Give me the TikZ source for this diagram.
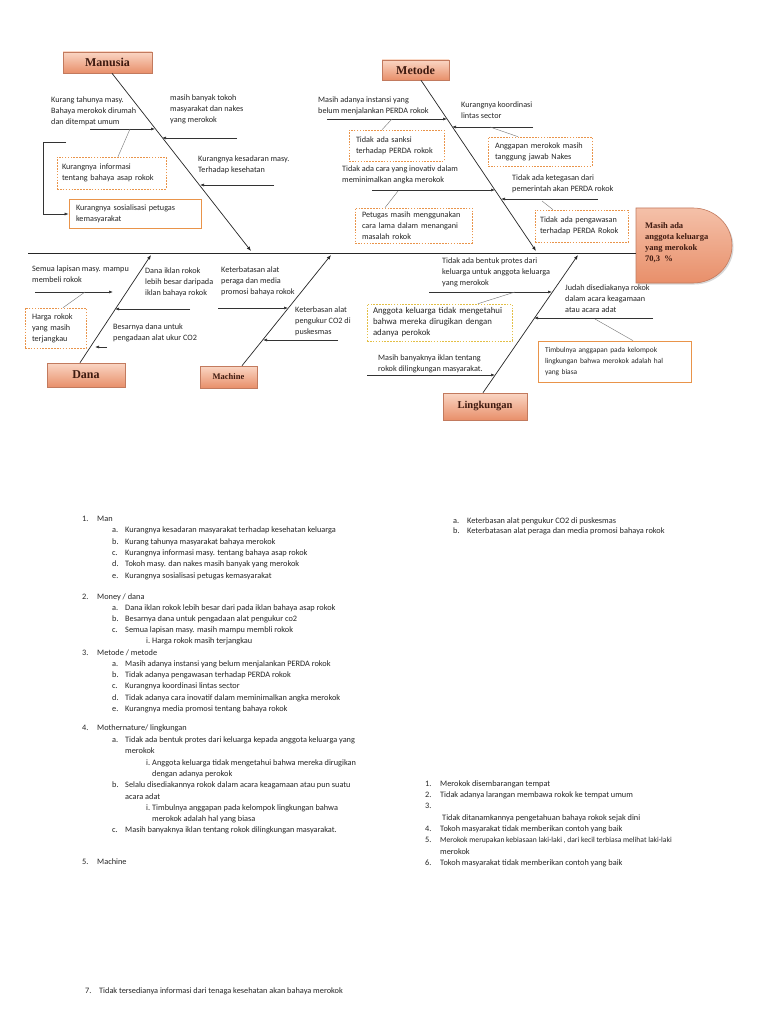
\documentclass[tikz,border=0pt]{standalone}
\usepackage{fontspec}
\setmainfont{Carlito}
\newfontfamily\tnr{Liberation Serif}
\usetikzlibrary{arrows.meta,shadows}
\definecolor{txtc}{HTML}{262626}
\definecolor{boxtop}{HTML}{FAD6C4}
\definecolor{boxbot}{HTML}{E88F6A}
\definecolor{boxdraw}{HTML}{C27A5E}
\definecolor{orng}{HTML}{E9944A}
\definecolor{goldc}{HTML}{E3BF45}
\definecolor{headtxt}{HTML}{3E1A10}
\begin{document}
\begin{tikzpicture}[x=1pt,y=-1pt,
 dtxt/.style={anchor=north west,inner sep=0pt,align=left,text=txtc,font=\fontsize{8.2}{11}\selectfont},
 ltxt/.style={anchor=base west,inner sep=0pt,text=txtc,font=\fontsize{8.3}{11}\selectfont},
 cat/.style={draw=boxdraw,line width=0.6pt,top color=boxtop,bottom color=boxbot,drop shadow={opacity=0.3,shadow xshift=1.3pt,shadow yshift=-1.3pt},text=headtxt,inner sep=0pt},
 dbox/.style={draw=orng,line width=0.6pt,dash pattern=on 1.6pt off 1.3pt,inner sep=0pt,align=left,text=txtc,font=\fontsize{8.2}{11}\selectfont},
 sbox/.style={draw=orng,line width=0.7pt,inner sep=0pt,align=left,text=txtc,font=\fontsize{8.2}{11}\selectfont},
 bone/.style={line width=0.7pt,black!85,-{Latex[length=4.5pt,width=3.5pt]}},
 sub/.style={line width=0.6pt,black!80,-{Latex[length=4pt,width=3pt]}},
 conn/.style={line width=0.4pt,black!55},
]
\useasboundingbox[fill=white] (0,0) rectangle (768,1024);

% ---------- head ----------
\path[draw=boxdraw,line width=0.6pt,top color=boxtop!70!boxbot,bottom color=boxbot,drop shadow={opacity=0.3,shadow xshift=1.5pt,shadow yshift=-1.5pt}]
 (636,208) -- (693,208) arc[start angle=-90,end angle=90,x radius=39,y radius=37.5] -- (636,283) -- cycle;
\coordinate (head) at (636,253);
\node[anchor=north west,inner sep=0pt,align=left,text=headtxt,font=\tnr\bfseries\fontsize{8.5}{11.3}\selectfont] (headtext) at (645,222) {Masih ada\\anggota keluarga\\yang merokok\\70,3~~\%};

% ---------- spine ----------
\coordinate (sp1) at (28,253);
\draw[line width=0.8pt,black!85] (sp1) -- (head);

% ---------- category boxes ----------
\node[cat,minimum width=89,minimum height=21,font=\tnr\bfseries\fontsize{12}{14}\selectfont] (man) at (107.5,62.5) {Manusia};
\node[cat,minimum width=67,minimum height=20,font=\tnr\bfseries\fontsize{12}{14}\selectfont] (met) at (415.5,70) {Metode};
\node[cat,minimum width=78,minimum height=24,font=\tnr\bfseries\fontsize{12}{14}\selectfont] (dan) at (86,375) {Dana};
\node[cat,minimum width=57,minimum height=22,font=\tnr\bfseries\fontsize{8.5}{10}\selectfont] (mac) at (228.5,377) {Machine};
\node[cat,minimum width=84,minimum height=27,font=\tnr\bfseries\fontsize{10.5}{12}\selectfont] (lin) at (485,406.5) {Lingkungan};

% ---------- main bones ----------
\coordinate (manE) at (251,251);
\coordinate (metE) at (536,251);
\coordinate (danE) at (151,255);
\coordinate (macE) at (331,255);
\coordinate (linE) at (578,255);
\draw[bone] ([xshift=4.5pt]man.south) -- (manE);
\draw[bone] ([xshift=5.5pt]met.south) -- (metE);
\draw[bone] ([xshift=-6pt]dan.north) -- (danE);
\draw[bone] ([xshift=13.5pt]mac.north) -- (macE);
\draw[bone] ([xshift=-2pt]lin.north) -- (linE);

% ---------- Manusia ----------
\node[dtxt] (t1) at (51,97) {Kurang tahunya masy.\\Bahaya merokok dirumah\\dan ditempat umum};
\node[dtxt] (t2) at (170,95) {masih banyak tokoh\\masyarakat dan nakes\\yang merokok};
\node[dtxt] (t3) at (198,155.5) {Kurangnya kesadaran masy.\\Terhadap kesehatan};
\coordinate (a1s) at (90,129);  \coordinate (a1e) at (155,129);
\coordinate (a2s) at (237,138); \coordinate (a2e) at (162,138);
\coordinate (a3s) at (274,185); \coordinate (a3e) at (200,185);
\draw[sub] (a1s) -- (a1e);
\draw[sub] (a2s) -- (a2e);
\draw[sub] (a3s) -- (a3e);
\node[dbox,minimum width=109,minimum height=32,text width=99] (b1) at (111.5,173) {Kurangnya informasi\\tentang bahaya asap rokok};
\node[sbox,minimum width=132,minimum height=29,text width=118] (b2) at (135,213.5) {Kurangnya sosialisasi petugas\\kemasyarakat};
\coordinate (c1) at (130,129);
\draw[conn] ([xshift=6.5pt]b1.north) -- (c1);
\coordinate (br1) at (66,142);
\draw[line width=0.6pt,black!80,-{Latex[length=4pt,width=3pt]}] (br1) -| (43,214) -- (b2.west |- 0,214);

% ---------- Metode ----------
\node[dtxt] (t4) at (318,96.5) {Masih adanya instansi yang\\belum menjalankan PERDA rokok};
\node[dtxt] (t5) at (461,102) {Kurangnya koordinasi\\lintas sector};
\node[dtxt] (t6) at (342,165.5) {Tidak ada cara yang inovativ dalam\\meminimalkan angka merokok};
\node[dtxt] (t7) at (512,174.5) {Tidak ada ketegasan dari\\pemerintah akan PERDA rokok};
\coordinate (a4s) at (327,119); \coordinate (a4e) at (447,119);
\coordinate (a5s) at (533,127); \coordinate (a5e) at (452,127);
\coordinate (a6s) at (372,190); \coordinate (a6e) at (495,190);
\coordinate (a7s) at (598,199); \coordinate (a7e) at (501,199);
\draw[sub] (a4s) -- (a4e);
\draw[sub] (a5s) -- (a5e);
\draw[sub] (a6s) -- (a6e);
\draw[sub] (a7s) -- (a7e);
\node[dbox,minimum width=95,minimum height=31,text width=81] (b3) at (396.5,145.5) {Tidak ada sanksi\\terhadap PERDA rokok};
\node[dbox,minimum width=104,minimum height=29,text width=90] (b4) at (540,151.5) {Anggapan merokok masih\\tanggung jawab Nakes};
\node[dbox,minimum width=117,minimum height=35,text width=103] (b5) at (413.5,225.5) {Petugas masih menggunakan\\cara lama dalam menangani\\masalah rokok};
\node[dbox,minimum width=93,minimum height=32,text width=83] (b6) at (581.5,226) {Tidak ada pengawasan\\terhadap PERDA Rokok};
\coordinate (c3) at (392,119);
\coordinate (c4) at (490,127);
\coordinate (c5) at (398,191);
\coordinate (c6) at (542,201);
\draw[conn] ([xshift=-14.5pt]b3.north) -- (c3);
\draw[conn] ([xshift=-22pt]b4.north) -- (c4);
\draw[conn] ([xshift=-28.5pt]b5.north) -- (c5);
\draw[conn] ([xshift=-28.5pt]b6.north) -- (c6);

% ---------- Dana ----------
\node[dtxt] (t8) at (32,265.5) {Semua lapisan masy. mampu\\membeli rokok};
\node[dtxt] (t9) at (145,267.5) {Dana iklan rokok\\lebih besar daripada\\iklan bahaya rokok};
\node[dtxt] (t10) at (113,323.5) {Besarnya dana untuk\\pengadaan alat ukur CO2};
\coordinate (a8s) at (35,292);  \coordinate (a8e) at (113,292);
\coordinate (a9s) at (190,309); \coordinate (a9e) at (115,309);
\coordinate (a10s) at (107,347); \coordinate (a10e) at (95,347);
\draw[sub] (a8s) -- (a8e);
\draw[sub] (a9s) -- (a9e);
\draw[sub] (a10s) -- (a10e);
\node[dbox,minimum width=61,minimum height=40,text width=47] (b7) at (55.5,328) {Harga rokok\\yang masih\\terjangkau};
\coordinate (c7) at (85,292);
\draw[conn] ([xshift=7.5pt]b7.north) -- (c7);

% ---------- Machine ----------
\node[dtxt] (t11) at (221,266.5) {Keterbatasan alat\\peraga dan media\\promosi bahaya rokok};
\node[dtxt] (t12) at (295,306.5) {Keterbasan alat\\pengukur CO2 di\\puskesmas};
\coordinate (a11s) at (218,308); \coordinate (a11e) at (288,308);
\coordinate (a12s) at (338,340); \coordinate (a12e) at (263,340);
\draw[sub] (a11s) -- (a11e);
\draw[sub] (a12s) -- (a12e);

% ---------- Lingkungan ----------
\node[dtxt] (t13) at (442,257.5) {Tidak ada bentuk protes dari\\keluarga untuk anggota keluarga\\yang merokok};
\node[dtxt] (t14) at (378,354.5) {Masih banyaknya iklan tentang\\rokok dilingkungan masyarakat.};
\node[dtxt] (t15) at (565,284.5) {Judah disediakanya rokok\\dalam acara keagamaan\\atau acara adat};
\coordinate (a13s) at (429,292); \coordinate (a13e) at (552,292);
\coordinate (a14s) at (367,375); \coordinate (a14e) at (495,375);
\coordinate (a15s) at (653,318); \coordinate (a15e) at (534,318);
\draw[sub] (a13s) -- (a13e);
\draw[sub] (a14s) -- (a14e);
\draw[sub] (a15s) -- (a15e);
\node[dbox,draw=goldc,minimum width=145,minimum height=37,text width=133,font=\fontsize{8.8}{11}\selectfont] (b8) at (439.5,322.5) {Anggota keluarga tidak mengetahui\\bahwa mereka dirugikan dengan\\adanya perokok};
\node[sbox,minimum width=153,minimum height=41,text width=139,font=\fontsize{7.4}{11}\selectfont] (b9) at (614.5,361.5) {Timbulnya anggapan pada kelompok\\lingkungan bahwa merokok adalah hal\\yang biasa};
\coordinate (c8) at (515,292);
\coordinate (c9) at (595,319);
\draw[conn] ([xshift=38.5pt]b8.north) -- (c8);
\draw[conn] ([xshift=18.5pt]b9.north) -- (c9);

% ---------- list, left column ----------
\node[ltxt] (n1) at (82,521) {1.};   \node[ltxt] (n1t) at (97,521) {Man};
\node[ltxt] (n1a) at (112,532) {a.}; \node[ltxt] (n1at) at (125,532) {Kurangnya kesadaran masyarakat terhadap kesehatan keluarga};
\node[ltxt] (n1b) at (112,544) {b.}; \node[ltxt] (n1bt) at (125,544) {Kurang tahunya masyarakat bahaya merokok};
\node[ltxt] (n1c) at (112,555) {c.}; \node[ltxt] (n1ct) at (125,555) {Kurangnya informasi masy. tentang bahaya asap rokok};
\node[ltxt] (n1d) at (112,566) {d.}; \node[ltxt] (n1dt) at (125,566) {Tokoh masy. dan nakes masih banyak yang merokok};
\node[ltxt] (n1e) at (112,578) {e.}; \node[ltxt] (n1et) at (125,578) {Kurangnya sosialisasi petugas kemasyarakat};

\node[ltxt] (n2) at (82,599) {2.};   \node[ltxt] (n2t) at (97,599) {Money / dana};
\node[ltxt] (n2a) at (112,610) {a.}; \node[ltxt] (n2at) at (125,610) {Dana iklan rokok lebih besar dari pada iklan bahaya asap rokok};
\node[ltxt] (n2b) at (112,621) {b.}; \node[ltxt] (n2bt) at (125,621) {Besarnya dana untuk pengadaan alat pengukur co2};
\node[ltxt] (n2c) at (112,632) {c.}; \node[ltxt] (n2ct) at (125,632) {Semua lapisan masy. masih mampu membli rokok};
\node[ltxt] (n2ci) at (146,643) {i.}; \node[ltxt] (n2cit) at (152,643) {Harga rokok masih terjangkau};

\node[ltxt] (n3) at (82,655) {3.};   \node[ltxt] (n3t) at (97,655) {Metode / metode};
\node[ltxt] (n3a) at (112,666) {a.}; \node[ltxt] (n3at) at (125,666) {Masih adanya instansi yang belum menjalankan PERDA rokok};
\node[ltxt] (n3b) at (112,677) {b.}; \node[ltxt] (n3bt) at (125,677) {Tidak adanya pengawasan terhadap PERDA rokok};
\node[ltxt] (n3c) at (112,688) {c.}; \node[ltxt] (n3ct) at (125,688) {Kurangnya koordinasi lintas sector};
\node[ltxt] (n3d) at (112,700) {d.}; \node[ltxt] (n3dt) at (125,700) {Tidak adanya cara inovatif dalam meminimalkan angka merokok};
\node[ltxt] (n3e) at (112,711) {e.}; \node[ltxt] (n3et) at (125,711) {Kurangnya media promosi tentang bahaya rokok};

\node[ltxt] (n4) at (82,730) {4.};   \node[ltxt] (n4t) at (97,730) {Mothernature/ lingkungan};
\node[ltxt] (n4a) at (112,742) {a.}; \node[ltxt] (n4at) at (125,742) {Tidak ada bentuk protes dari keluarga kepada anggota keluarga yang};
\node[ltxt] (n4at2) at (125,753) {merokok};
\node[ltxt] (n4ai) at (146,765) {i.}; \node[ltxt] (n4ait) at (152,765) {Anggota keluarga tidak mengetahui bahwa mereka dirugikan};
\node[ltxt] (n4ait2) at (152,776) {dengan adanya perokok};
\node[ltxt] (n4b) at (112,787) {b.}; \node[ltxt] (n4bt) at (125,787) {Selalu disediakannya rokok dalam acara keagamaan atau pun suatu};
\node[ltxt] (n4bt2) at (125,799) {acara adat};
\node[ltxt] (n4bi) at (146,810) {i.}; \node[ltxt] (n4bit) at (152,810) {Timbulnya anggapan pada kelompok lingkungan bahwa};
\node[ltxt] (n4bit2) at (152,821) {merokok adalah hal yang biasa};
\node[ltxt] (n4c) at (112,832) {c.}; \node[ltxt] (n4ct) at (125,832) {Masih banyaknya iklan tentang rokok dilingkungan masyarakat.};

\node[ltxt] (n5) at (82,864) {5.};   \node[ltxt] (n5t) at (97,864) {Machine};
\node[ltxt] (n7) at (85,993) {7.};   \node[ltxt] (n7t) at (99,993) {Tidak tersedianya informasi dari tenaga kesehatan akan bahaya merokok};

% ---------- list, right column ----------
\node[ltxt] (m1a) at (453,523) {a.}; \node[ltxt] (m1at) at (467,523) {Keterbasan alat pengukur CO2 di puskesmas};
\node[ltxt] (m1b) at (453,533) {b.}; \node[ltxt] (m1bt) at (467,533) {Keterbatasan alat peraga dan media promosi bahaya rokok};

\node[ltxt] (r1) at (425,786) {1.}; \node[ltxt] (r1t) at (440,786) {Merokok disembarangan tempat};
\node[ltxt] (r2) at (425,797) {2.}; \node[ltxt] (r2t) at (440,797) {Tidak adanya larangan membawa rokok ke tempat umum};
\node[ltxt] (r3) at (425,808) {3.};
\node[ltxt] (r3t) at (442,820) {Tidak ditanamkannya pengetahuan bahaya rokok sejak dini};
\node[ltxt] (r4) at (425,831) {4.}; \node[ltxt] (r4t) at (440,831) {Tokoh masyarakat tidak memberikan contoh yang baik};
\node[ltxt] (r5) at (425,842) {5.}; \node[ltxt,font=\fontsize{7.6}{11}\selectfont] (r5t) at (440,842) {Merokok merupakan kebiasaan laki-laki , dari kecil terbiasa melihat laki-laki};
\node[ltxt] (r5t2) at (440,854) {merokok};
\node[ltxt] (r6) at (425,865) {6.}; \node[ltxt] (r6t) at (440,865) {Tokoh masyarakat tidak memberikan contoh yang baik};
\end{tikzpicture}
\end{document}
